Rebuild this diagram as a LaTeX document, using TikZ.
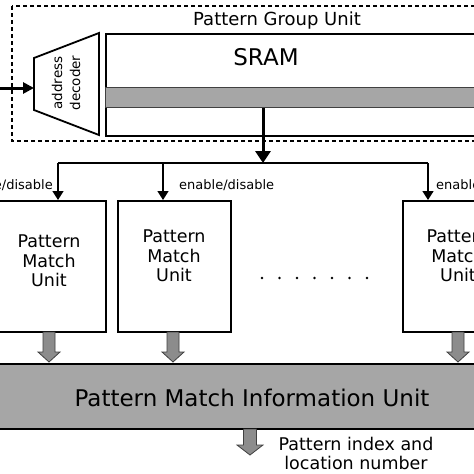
\documentclass[tikz,border=0pt]{standalone}
\usepackage{fontspec}
\setmainfont{DejaVu Sans}
\usetikzlibrary{arrows.meta,calc}
\definecolor{bandgray}{HTML}{A6A6A6}
\definecolor{arrgray}{HTML}{8C8C8C}
\definecolor{edgegray}{HTML}{404040}
\tikzset{
  unitbox/.style={draw=black,line width=2pt,fill=white},
  lbl/.style={inner sep=0pt,font=\fontsize{13}{15}\selectfont},
  bus/.style={line width=1.5pt,-{Triangle[length=9pt,width=11pt]}},
  bigarrow/.style={line width=3pt,-{Triangle[length=12pt,width=15pt]}},
  blockarr/.style={fill=arrgray,draw=edgegray,line width=0.8pt,line join=miter},
  pmtext/.style={align=center,inner sep=0pt,font=\fontsize{17.5}{19.5}\selectfont}
}
\newcommand\myblockarrow[6]{% x, ytop, ybot, shaft half, head half, head length
  \path[blockarr] (#1-#4,#2) -- (#1+#4,#2) -- (#1+#4,#3-#6) -- (#1+#5,#3-#6) -- (#1,#3) -- (#1-#5,#3-#6) -- (#1-#4,#3-#6) -- cycle;}
\begin{document}
\begin{tikzpicture}[x=1pt,y=-1pt]
\useasboundingbox (0,0) rectangle (474,474);
\clip (0,0) rectangle (474,474);
\fill[white] (0,0) rectangle (474,474);
% pattern group unit
\draw[dash pattern=on 4pt off 3pt,line width=1.1pt] (12,6) rectangle (490,141);
\node[inner sep=0pt,font=\fontsize{18}{20}\selectfont] (pgu) at (277,21) {Pattern Group Unit};
% address decoder
\draw[line width=1.8pt,line join=miter] (34,58) -- (99,33) -- (99,135) -- (34,110) -- cycle;
\coordinate (decin) at (34,88);
\coordinate (src) at (0,88);
\node[rotate=90,align=center,inner sep=0pt,font=\fontsize{13.5}{18}\selectfont] (dec) at (66,83) {address\\decoder};
% SRAM
\node[draw=black,line width=1.8pt,minimum width=385pt,minimum height=102pt,anchor=north west,inner sep=0pt] (sram) at (105,33) {};
\node[draw=edgegray,line width=1.2pt,fill=bandgray,minimum width=385pt,minimum height=20pt,anchor=north west,inner sep=0pt] (row) at (105,87) {};
\node[inner sep=0pt,font=\fontsize{23}{25}\selectfont] (sramlbl) at (266,57) {SRAM};
\draw[bigarrow,-{Triangle[length=11pt,width=11pt]}] (src) -- (decin);
% bus
\coordinate (busc) at (263,163);
\coordinate (busl) at (58,163);
\coordinate (busm) at (163,163);
\coordinate (busr) at (428,163);
\draw[bigarrow] (263,108) -- (busc);
\draw[line width=1.5pt] (busl) -- (busr);
% units
\node[unitbox,minimum width=113pt,minimum height=131pt,anchor=north west,inner sep=0pt] (pmu1) at (-8,200) {};
\node[unitbox,minimum width=113pt,minimum height=131pt,anchor=north west,inner sep=0pt] (pmu2) at (117,200) {};
\node[unitbox,minimum width=113pt,minimum height=131pt,anchor=north west,inner sep=0pt] (pmu3) at (402,200) {};
\draw[bus] (busl) -- (busl |- pmu1.north);
\draw[bus] (busm) -- (busm |- pmu2.north);
\draw[bus] (busr) -- (busr |- pmu3.north);
\node[lbl,anchor=east] (en1) at (53,185) {enable/disable};
\node[lbl,anchor=west] (en2) at (179,185) {enable/disable};
\node[lbl,anchor=west] (en3) at (436,185) {enable/disable};
\node[pmtext] (t1) at (49,261) {Pattern\\Match\\Unit};
\node[pmtext] (t2) at (174,256) {Pattern\\Match\\Unit};
\node[pmtext] (t3) at (458,256) {Pattern\\Match\\Unit};
\foreach \i in {0,...,6} {\fill ({262+\i*17.5},278) circle (1.3pt);}
% information unit
\node[draw=black,line width=1.6pt,fill=bandgray,minimum width=490pt,minimum height=65pt,anchor=north west,inner sep=0pt] (pmi) at (-8,363) {};
\node[inner sep=0pt,font=\fontsize{23}{25}\selectfont] (pmil) at (252,398) {Pattern Match Information Unit};
\myblockarrow{49}{332}{362}{6}{11}{10}
\myblockarrow{173}{332}{362}{6}{11}{10}
\myblockarrow{458}{332}{362}{6}{11}{10}
\myblockarrow{250}{429}{455}{6.5}{13}{10}
\node[align=center,inner sep=0pt,font=\fontsize{17.5}{19}\selectfont] (out) at (356,453) {Pattern index and\\location number};
\end{tikzpicture}
\end{document}
